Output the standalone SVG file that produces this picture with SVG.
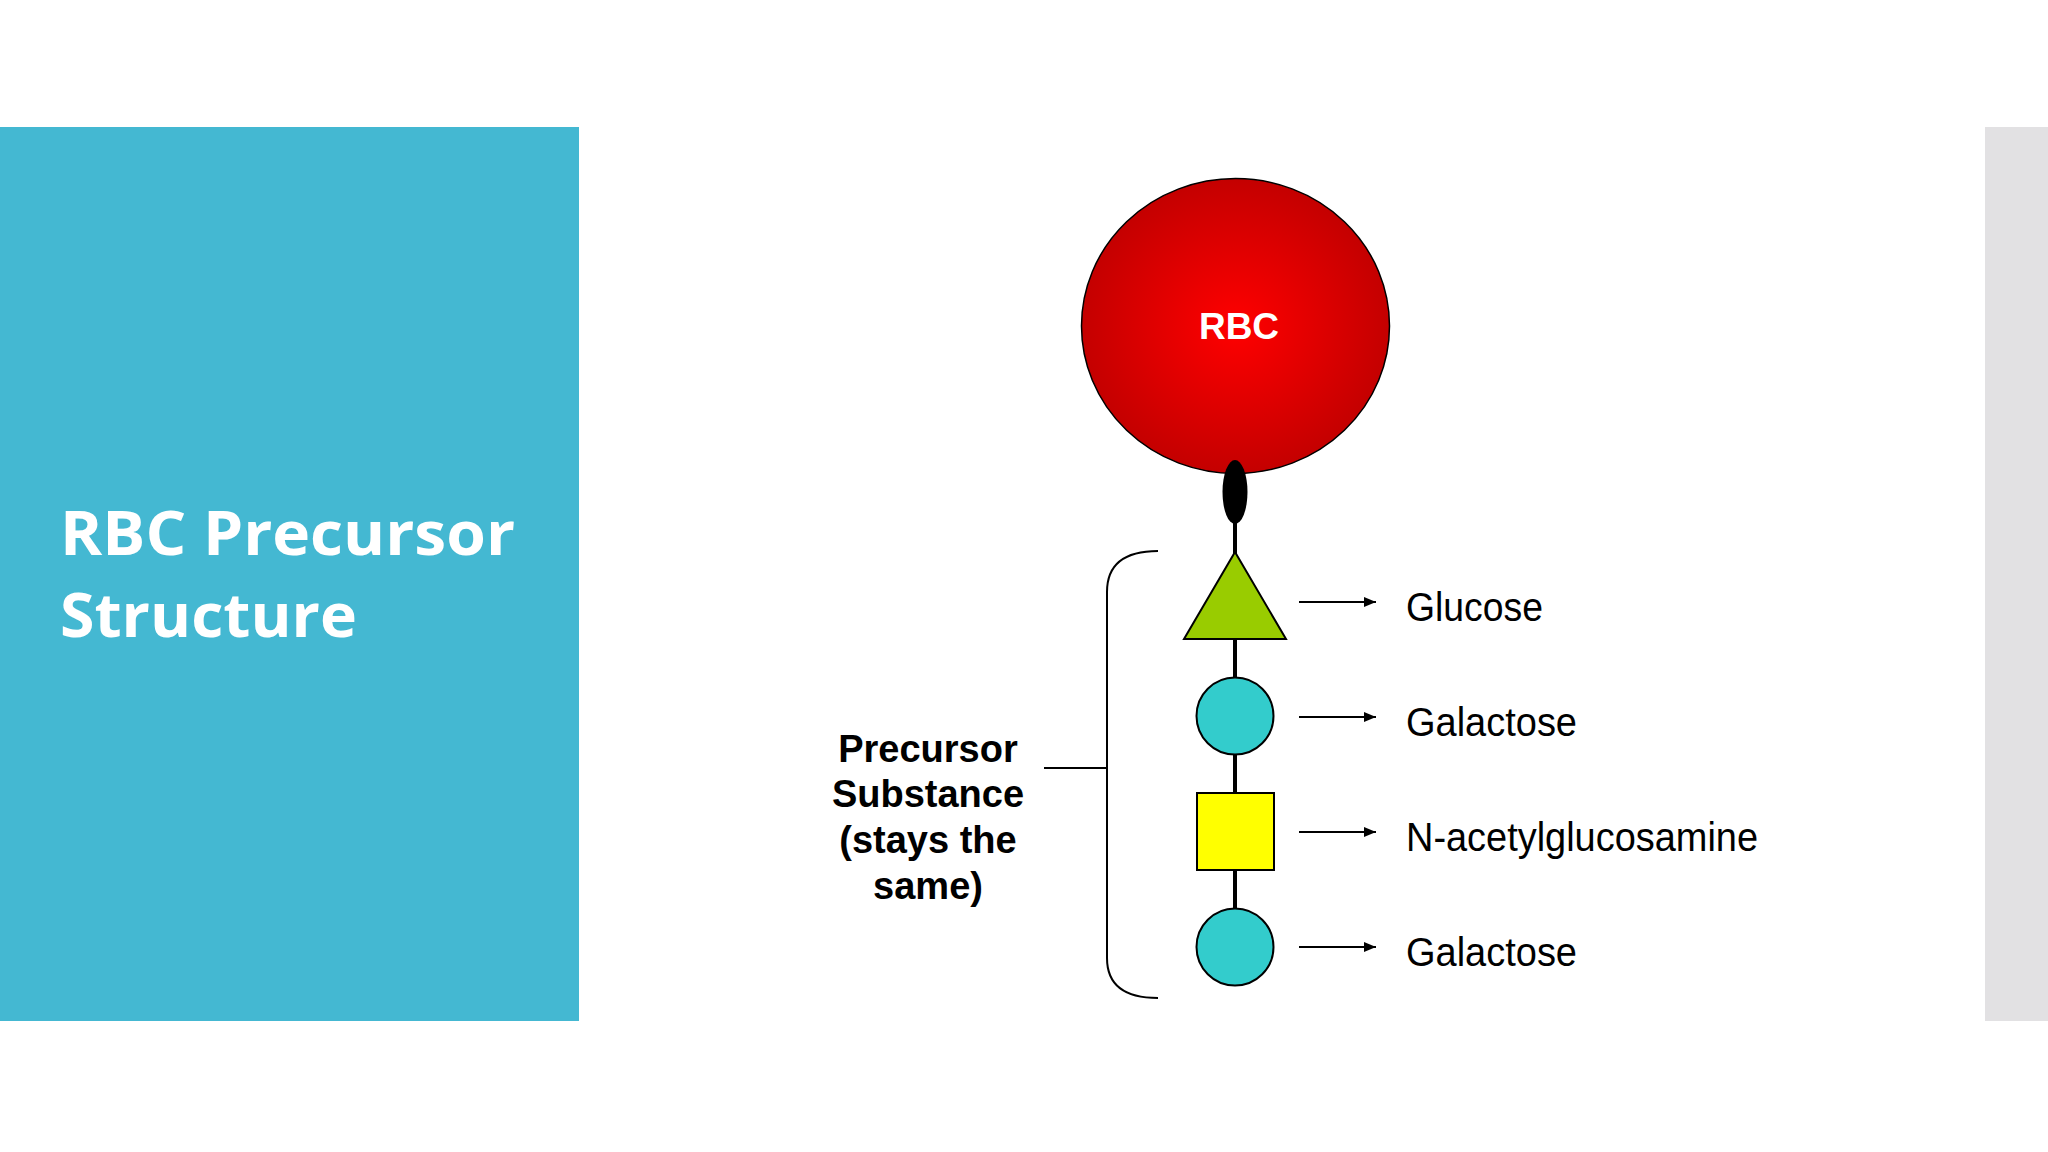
<svg xmlns="http://www.w3.org/2000/svg" width="2048" height="1152" viewBox="0 0 2048 1152">
  <style>
    .label { font-family: "Liberation Sans", Arial, sans-serif; font-size: 40px; fill: #000; }
    .bold { font-family: "Liberation Sans", Arial, sans-serif; font-size: 38px; font-weight: bold; fill: #000; text-anchor: middle; }
    .title { font-family: "Open Sans", "Noto Sans", sans-serif; font-size: 61px; font-weight: 700; fill: #fff; }
    .conn { stroke: #000; fill: none; }
    .shape { stroke: #000; stroke-width: 2; }
  </style>
  <defs>
    <radialGradient id="rbcGrad" cx="50%" cy="50%" r="50%">
      <stop offset="0" stop-color="#FF0000"/>
      <stop offset="1" stop-color="#C40000"/>
    </radialGradient>
    <marker id="arrow" viewBox="0 0 12 10" refX="12" refY="5" markerWidth="12" markerHeight="10" markerUnits="userSpaceOnUse" orient="auto">
      <path d="M0,0 L12,5 L0,10 Z" fill="#000"/>
    </marker>
  </defs>

  <rect x="0" y="0" width="2048" height="1152" fill="#FFFFFF"/>

  <g id="title-panel">
    <rect x="0" y="127" width="579" height="894" fill="#44B8D2"/>
    <text class="title" x="60" y="555" textLength="455" lengthAdjust="spacingAndGlyphs">RBC Precursor</text>
    <text class="title" x="60" y="637" textLength="297" lengthAdjust="spacingAndGlyphs">Structure</text>
  </g>

  <g id="side-panel">
    <rect x="1985" y="127" width="63" height="894" fill="#E2E1E3"/>
  </g>

  <g id="connectors">
    <line class="conn" x1="1235" y1="480" x2="1235" y2="930" stroke-width="4"/>
    <path class="conn" stroke-width="2" d="M1158,551 Q1107,551 1107,592 L1107,958 Q1107,998 1158,998"/>
    <line class="conn" stroke-width="2" x1="1044" y1="768" x2="1107" y2="768"/>
    <line class="conn" stroke-width="2" x1="1299" y1="602" x2="1376" y2="602" marker-end="url(#arrow)"/>
    <line class="conn" stroke-width="2" x1="1299" y1="717" x2="1376" y2="717" marker-end="url(#arrow)"/>
    <line class="conn" stroke-width="2" x1="1299" y1="832" x2="1376" y2="832" marker-end="url(#arrow)"/>
    <line class="conn" stroke-width="2" x1="1299" y1="947" x2="1376" y2="947" marker-end="url(#arrow)"/>
  </g>

  <g id="rbc">
    <ellipse cx="1235.5" cy="326" rx="154" ry="147.5" fill="url(#rbcGrad)" stroke="#000" stroke-width="1.5"/>
    <text x="1239" y="339" font-family="Liberation Sans, Arial, sans-serif" font-size="37" font-weight="bold" fill="#FFFFFF" text-anchor="middle">RBC</text>
  </g>

  <g id="anchor">
    <ellipse cx="1235" cy="492" rx="12.5" ry="32" fill="#000"/>
  </g>

  <g id="glucose">
    <polygon class="shape" points="1235,552 1286,639 1184,639" fill="#99CC00"/>
    <text class="label" x="1406" y="621" textLength="137" lengthAdjust="spacingAndGlyphs">Glucose</text>
  </g>

  <g id="galactose-1">
    <circle class="shape" cx="1235" cy="716" r="38.5" fill="#33CCCC"/>
    <text class="label" x="1406" y="736" textLength="171" lengthAdjust="spacingAndGlyphs">Galactose</text>
  </g>

  <g id="n-acetylglucosamine">
    <rect class="shape" x="1197" y="793" width="77" height="77" fill="#FFFF00"/>
    <text class="label" x="1406" y="851" textLength="352" lengthAdjust="spacingAndGlyphs">N-acetylglucosamine</text>
  </g>

  <g id="galactose-2">
    <circle class="shape" cx="1235" cy="947" r="38.5" fill="#33CCCC"/>
    <text class="label" x="1406" y="966" textLength="171" lengthAdjust="spacingAndGlyphs">Galactose</text>
  </g>

  <g id="precursor-label">
    <text class="bold" x="928" y="762">Precursor</text>
    <text class="bold" x="928" y="807">Substance</text>
    <text class="bold" x="928" y="853">(stays the</text>
    <text class="bold" x="928" y="899">same)</text>
  </g>
</svg>
